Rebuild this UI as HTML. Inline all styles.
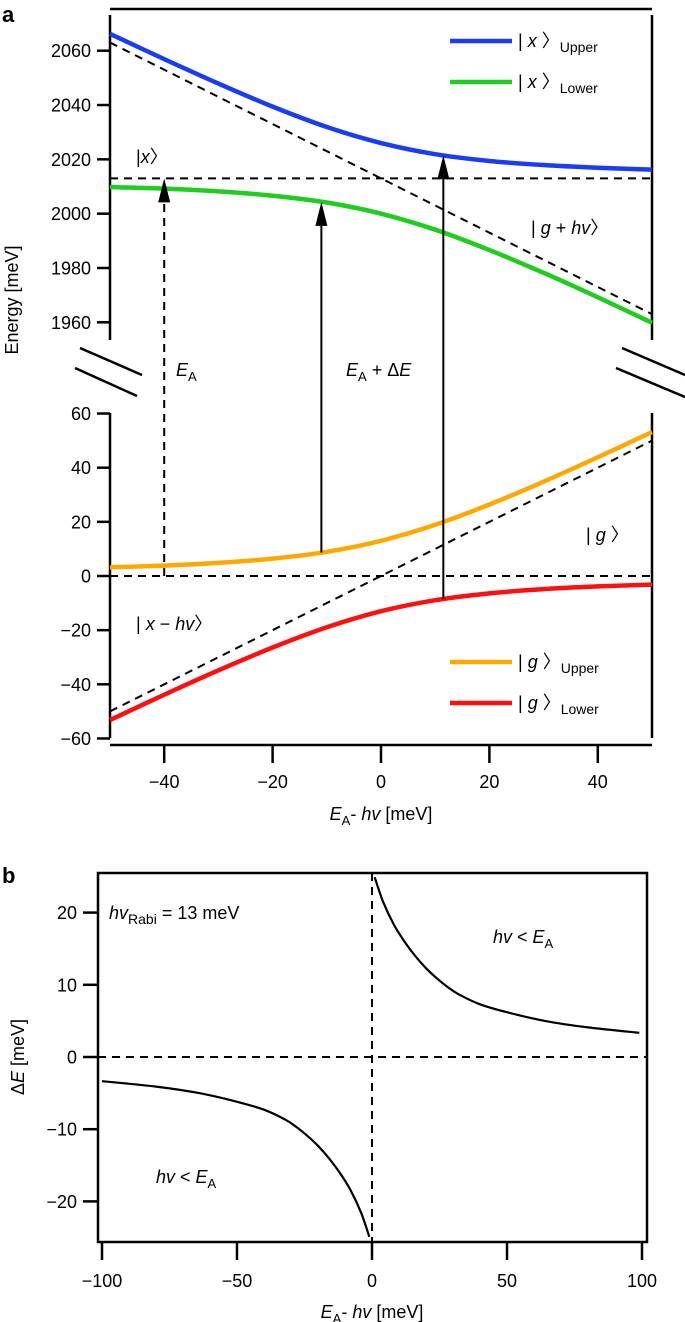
<!DOCTYPE html>
<html><head><meta charset="utf-8"><style>
body{margin:0;background:#fff}
svg{display:block;font-family:"Liberation Sans",sans-serif}
.t{font-size:18px;fill:#000}
.i{font-style:italic}
</style></head><body>
<svg id="fig" width="685" height="1322" viewBox="0 0 685 1322" xmlns="http://www.w3.org/2000/svg">
<g id="pa"></g>
<g id="pb"></g>
</svg>
<script>
const detuning = [-50,-40,-30,-20,-10,0,10,20,30,40,50];
const gUpper = [3.2,3.85,4.85,6.4,8.93,13,18.93,26.4,34.85,43.85,53.18];
const gLower = [-53.18,-43.85,-34.85,-26.4,-18.93,-13,-8.93,-6.4,-4.85,-3.85,-3.18];
const xUpper = [2066.2,2056.9,2047.9,2039.4,2031.9,2026,2021.9,2019.4,2017.9,2016.9,2016.2];
const xLower = [2009.8,2009.2,2008.2,2006.6,2004.1,2000,1994.1,1986.6,1978.2,1969.2,1959.8];
const upperTicks = [2060,2040,2020,2000,1980,1960];
const lowerTicks = [60,40,20,0,-20,-40,-60];
const xTicksA = [-40,-20,0,20,40];
const bPosX = [1,4,8,12,16,20,24,28,32,40,50,64,80,99];
const bPosY = [24.9,21.6,18.4,16.0,14.0,12.3,10.9,9.7,8.7,7.3,6.2,5.0,4.1,3.35];
const bNegX = [-100,-80,-64,-50,-40,-32,-28,-24,-20,-16,-12,-8,-4,-1];
const bNegY = [-3.35,-4.1,-5.0,-6.2,-7.3,-8.7,-9.7,-10.9,-12.3,-14.0,-16.0,-18.4,-21.6,-24.9];
const bTicksY = [20,10,0,-10,-20];
const bTicksX = [-100,-50,0,50,100];

const NS='http://www.w3.org/2000/svg';
function mk(parent,tag,attrs){const e=document.createElementNS(NS,tag);for(const k in attrs)e.setAttribute(k,attrs[k]);parent.appendChild(e);return e;}
function smooth(pts){let d='M'+pts[0][0].toFixed(2)+','+pts[0][1].toFixed(2);
 for(let i=0;i<pts.length-1;i++){const p0=pts[Math.max(i-1,0)],p1=pts[i],p2=pts[i+1],p3=pts[Math.min(i+2,pts.length-1)];
 const c1=[p1[0]+(p2[0]-p0[0])/6,p1[1]+(p2[1]-p0[1])/6],c2=[p2[0]-(p3[0]-p1[0])/6,p2[1]-(p3[1]-p1[1])/6];
 d+=' C'+c1.map(v=>v.toFixed(2))+' '+c2.map(v=>v.toFixed(2))+' '+p2[0].toFixed(2)+','+p2[1].toFixed(2);}return d;}
function interp(xs,ys,x){for(let i=0;i<xs.length-1;i++){if(x>=xs[i]&&x<=xs[i+1]){const t=(x-xs[i])/(xs[i+1]-xs[i]);return ys[i]+t*(ys[i+1]-ys[i]);}}return ys[ys.length-1];}

// ---------- panel a ----------
const A=document.getElementById('pa');
const X=d=>381+d*5.42;
const YU=e=>50.7+(2060-e)*2.716;
const YL=e=>576-e*2.708;
function line(p,x1,y1,x2,y2,w,dash,name){const l=mk(p,'line',{x1,y1,x2,y2,stroke:'#000','stroke-width':w});if(dash)l.setAttribute('stroke-dasharray',dash);

return l;}
function text(p,x,y,str,name,anchor,cls){const t=mk(p,'text',{x,y,class:cls||'t','text-anchor':anchor||'start'});t.innerHTML=str;

return t;}

text(A,2,22,'a','panel-a-label','start','t').setAttribute('style','font-weight:bold;font-size:22px');
line(A,110,9,652,9,2.5,null,'top-border');
line(A,110,15,110,340,2.5,null,'y-axis-upper-left');
line(A,652,15,652,340,2.5,null,'y-axis-upper-right');
line(A,110,413,110,738,2.5,null,'y-axis-lower-left');
line(A,652,413,652,738,2.5,null,'y-axis-lower-right');
line(A,110,745,652,745,2.5,null,'x-axis');
line(A,80,348,142,375,2.5,null,'break-mark-left');
line(A,75,368,137,396,2.5,null,'break-mark-left');
line(A,622,348,685,375,2.5,null,'break-mark-right');
line(A,616,368,685,397,2.5,null,'break-mark-right');
upperTicks.forEach(v=>{line(A,97,YU(v),110,YU(v),2.5,null,'y-tick');text(A,91,YU(v)+6.5,String(v),'y-tick-label','end');});
lowerTicks.forEach(v=>{line(A,97,YL(v),110,YL(v),2.5,null,'y-tick');text(A,91,YL(v)+6.5,String(v).replace('-','\u2212'),'y-tick-label','end');});
xTicksA.forEach(v=>{line(A,X(v),745,X(v),763,2.5,null,'x-tick');text(A,X(v),788,String(v).replace('-','\u2212'),'x-tick-label','middle');});
text(A,381,820,'<tspan class="i">E</tspan><tspan font-size="13" dy="5">A</tspan><tspan dy="-5">- </tspan><tspan class="i">hv</tspan> [meV]','x-axis-title','middle');
const yt=text(A,0,0,'Energy [meV]','y-axis-title','middle');yt.setAttribute('transform','translate(18,300) rotate(-90)');

line(A,110,YU(2013),652,YU(2013),2,'8,6','dashed-x-state');
line(A,X(-50),YU(2063),X(50),YU(1963),2,'8,6','dashed-g-plus-hv');
line(A,110,YL(0),652,YL(0),2,'8,6','dashed-g-state');
line(A,X(-50),YL(-50),X(50),YL(50),2,'8,6','dashed-x-minus-hv');

function curve(p,xs,ys,fx,fy,color,w,name){const pts=xs.map((d,i)=>[fx(d),fy(ys[i])]);const c=mk(p,'path',{d:smooth(pts),fill:'none',stroke:color,'stroke-width':w});

return c;}
curve(A,detuning,xUpper,X,YU,'#1a3cf5',4.5,'x-upper-curve');
curve(A,detuning,xLower,X,YU,'#1fcc1f',4.5,'x-lower-curve');
curve(A,detuning,gUpper,X,YL,'#ffa800',4.5,'g-upper-curve');
curve(A,detuning,gLower,X,YL,'#ff1010',4.5,'g-lower-curve');

function arrow(p,x,y1,y2,dash,name){const g=mk(p,'g',{});

const l=mk(g,'line',{x1:x,y1:y1,x2:x,y2:y2+20,stroke:'#000','stroke-width':2});if(dash)l.setAttribute('stroke-dasharray',dash);
mk(g,'polygon',{points:`${x},${y2} ${x-6},${y2+24} ${x+6},${y2+24}`,fill:'#000'});}
arrow(A,X(-40),YL(0),YU(2013),'8,6','arrow-EA');
arrow(A,X(-11),YL(interp(detuning,gUpper,-11)),YU(interp(detuning,xLower,-11)),null,'arrow-EA-plus-dE-left');
arrow(A,X(11.5),YL(interp(detuning,gLower,11.5)),YU(interp(detuning,xUpper,11.5)),null,'arrow-EA-plus-dE-right');

text(A,136,163,'|<tspan class="i">x</tspan>\u232a','label-x-state');
text(A,531,234,'|<tspan class="i"> g </tspan>+ <tspan class="i">hv</tspan>\u232a','label-g-plus-hv');
text(A,176,376,'<tspan class="i">E</tspan><tspan font-size="13" dy="5">A</tspan>','label-EA');
text(A,346,376,'<tspan class="i">E</tspan><tspan font-size="13" dy="5">A</tspan><tspan dy="-5"> + \u0394</tspan><tspan class="i">E</tspan>','label-EA-plus-dE');
text(A,586,541,'|<tspan class="i"> g </tspan>\u232a','label-g-state');
text(A,136,630,'|<tspan class="i"> x </tspan>\u2212 <tspan class="i">hv</tspan>\u232a','label-x-minus-hv');

function legend(p,y,color,sym,sub,name){const g=mk(p,'g',{});

mk(g,'line',{x1:450,y1:y,x2:512,y2:y,stroke:color,'stroke-width':4.5});
const t=mk(g,'text',{x:518,y:y+6,class:'t'});t.innerHTML='|<tspan class="i"> '+sym+' </tspan>\u232a<tspan font-size="14" dy="5">'+sub+'</tspan>';}
legend(A,41,'#1a3cf5','x','Upper','legend-x-upper');
legend(A,82,'#1fcc1f','x','Lower','legend-x-lower');
legend(A,662,'#ffa800','g','Upper','legend-g-upper');
legend(A,703,'#ff1010','g','Lower','legend-g-lower');

// ---------- panel b ----------
const B=document.getElementById('pb');
const XB=d=>372+d*2.7;
const YB=v=>1057-v*7.22;
text(B,2,883,'b','panel-b-label').setAttribute('style','font-weight:bold;font-size:22px');
const box=mk(B,'rect',{x:98,y:873,width:549,height:369,fill:'none',stroke:'#000','stroke-width':2.5});


bTicksY.forEach(v=>{line(B,83,YB(v),98,YB(v),2.5,null,'y-tick');text(B,77,YB(v)+6.5,String(v).replace('-','\u2212'),'y-tick-label','end');});
bTicksX.forEach(v=>{line(B,XB(v),1242,XB(v),1260,2.5,null,'x-tick');text(B,XB(v),1287,String(v).replace('-','\u2212'),'x-tick-label','middle');});
text(B,372,1318,'<tspan class="i">E</tspan><tspan font-size="13" dy="5">A</tspan><tspan dy="-5">- </tspan><tspan class="i">hv</tspan> [meV]','x-axis-title','middle');
const yb=text(B,0,0,'\u0394<tspan class="i">E</tspan> [meV]','y-axis-title','middle');yb.setAttribute('transform','translate(24,1057) rotate(-90)');
line(B,98,YB(0),647,YB(0),2,'8,6','dashed-zero-line');
line(B,XB(0),873,XB(0),1242,2,'8,6','dashed-resonance-line');
curve(B,bPosX,bPosY,XB,YB,'#000',2.2,'delta-E-positive');
curve(B,bNegX,bNegY,XB,YB,'#000',2.2,'delta-E-negative');
text(B,109,919,'<tspan class="i">hv</tspan><tspan font-size="14" dy="5">Rabi</tspan><tspan dy="-5"> = 13 meV</tspan>','rabi-label');
text(B,493,943,'<tspan class="i">hv</tspan> &lt; <tspan class="i">E</tspan><tspan font-size="13" dy="5">A</tspan>','label-upper-region');
text(B,156,1183,'<tspan class="i">hv</tspan> &lt; <tspan class="i">E</tspan><tspan font-size="13" dy="5">A</tspan>','label-lower-region');
</script>
</body></html>
